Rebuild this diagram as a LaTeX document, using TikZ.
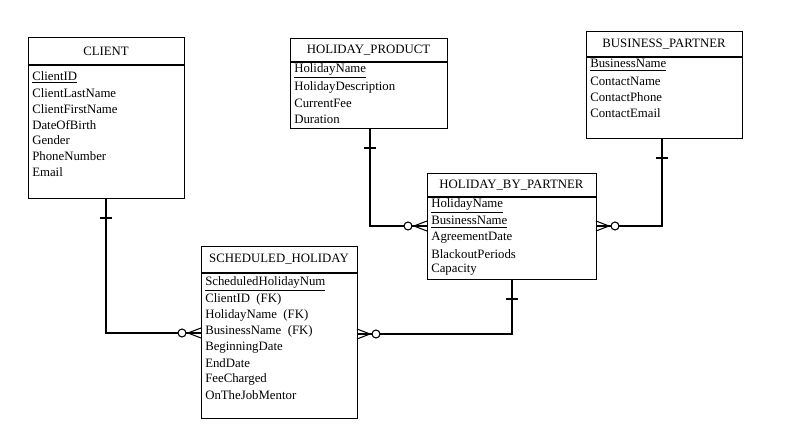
\documentclass[tikz,border=0pt]{standalone}
\usepackage{fontspec}
\setmainfont{Liberation Serif}
\begin{document}
\begin{tikzpicture}[x=0.75pt,y=-0.75pt,
  box/.style={draw,line width=0.9pt,anchor=north west,inner sep=0},
  tt/.style={font=\fontsize{9.6}{11}\selectfont},
  it/.style={font=\fontsize{9.6}{11}\selectfont,anchor=west,inner sep=0},
  ln/.style={line width=0.8pt}]
\useasboundingbox (0,0) rectangle (790,435);
\newcommand\ent[7]{% name, x, y, w, h, headerY, title
  \node[box,minimum width=#4*0.75pt,minimum height=#5*0.75pt] (#1) at (#2,#3) {};
  \draw[line width=0.9pt] (#2,#6) -- ++(#4,0);
  \node[tt] (#1t) at (#2+#4/2,{(#3+#6)/2}) {#7};}
\newcommand\items[4]{% x, y0, name, list
  \foreach \t [count=\i] in {#4} \node[it] (#3\i) at (#2+4,{#3+16*(\i-1)}) {\t};}
\ent{cl}{28}{37}{156}{161}{65}{CLIENT}
\foreach \t [count=\i] in {\underline{ClientID},ClientLastName,ClientFirstName,DateOfBirth,Gender,PhoneNumber,Email}
  \node[it] (cl\i) at (32,{77+15.9*(\i-1)}) {\t};
\ent{hp}{290}{38}{157}{90}{62}{HOLIDAY\_PRODUCT}
\foreach \t [count=\i] in {\underline{HolidayName},HolidayDescription,CurrentFee,Duration}
  \node[it] (hp\i) at (294,{71+16*(\i-1)}) {\t};
\ent{bp}{586}{31}{156}{107}{57}{BUSINESS\_PARTNER}
\foreach \t [count=\i] in {\underline{BusinessName},ContactName,ContactPhone,ContactEmail}
  \node[it] (bp\i) at (590,{65+16*(\i-1)}) {\t};
\ent{hb}{427}{173}{169}{106}{197}{HOLIDAY\_BY\_PARTNER}
\foreach \t [count=\i] in {\underline{HolidayName},\underline{BusinessName},AgreementDate,BlackoutPeriods,Capacity}
  \node[it] (hb\i) at (431,{206+16*(\i-1)}) {\t};
\ent{sh}{201}{246}{156}{172}{273}{SCHEDULED\_HOLIDAY}
\foreach \t [count=\i] in {\underline{ScheduledHolidayNum},ClientID\ \ (FK),HolidayName\ \ (FK),BusinessName\ \ (FK),BeginningDate,EndDate,FeeCharged,OnTheJobMentor}
  \node[it] (sh\i) at (205,{284+15.85*(\i-1)}) {\t};
% connectors
\coordinate (c1) at (106,198); \coordinate (c1e) at (201,333);
\draw[ln] (c1) -- (106,333) -- (c1e);
\draw[ln] (100,218) -- (112,218);
\coordinate (c2) at (370,128); \coordinate (c2e) at (427,226);
\draw[ln] (c2) -- (370,226) -- (c2e);
\draw[ln] (364,148) -- (376,148);
\coordinate (c3) at (662,138); \coordinate (c3e) at (596,226);
\draw[ln] (c3) -- (662,226) -- (c3e);
\draw[ln] (656,158) -- (668,158);
\coordinate (c4) at (512,279); \coordinate (c4e) at (357,334);
\draw[ln] (c4) -- (512,334) -- (c4e);
\draw[ln] (506,299) -- (518,299);
% crow's feet with circles: #1 edge point, #2 direction (+1 right/-1 left outward)
\newcommand\crow[3]{%
  \draw[ln] (#1-#3*13,#2) -- (#1,#2-5) (#1-#3*13,#2) -- (#1,#2+5) (#1-#3*13,#2) -- (#1,#2);
  \draw[ln,fill=white] (#1-#3*19,#2) circle[radius=4];}
\crow{201}{333}{1}
\crow{427}{226}{1}
\crow{596}{226}{-1}
\crow{357}{334}{-1}
\end{tikzpicture}
\end{document}
